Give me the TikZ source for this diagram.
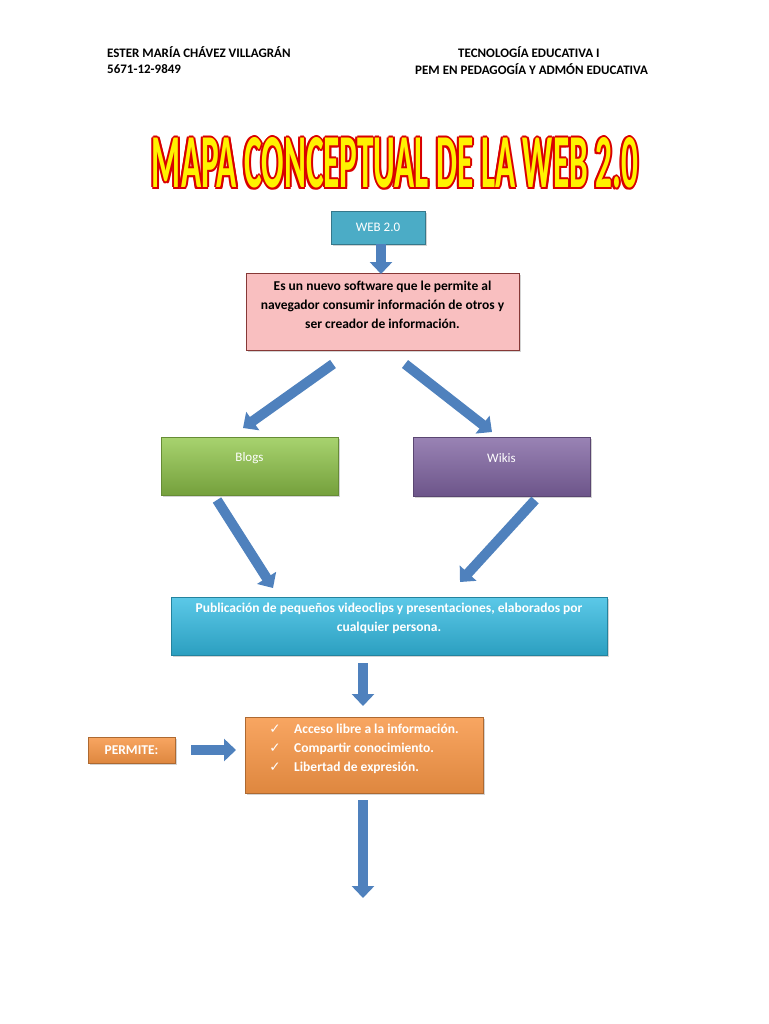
\documentclass[tikz,border=0pt]{standalone}
\usepackage{fontspec}
\usepackage{graphicx}
\setmainfont{Carlito}
\newfontfamily\djv{DejaVu Sans}
\usetikzlibrary{arrows.meta,shadows}
\definecolor{ablue}{HTML}{4F81BD}
\definecolor{teal}{HTML}{4BACC6}
\definecolor{pinkf}{HTML}{F9BFC0}
\definecolor{pinkd}{HTML}{C0504D}
\definecolor{gre}{HTML}{92C84B}
\definecolor{pur}{HTML}{8064A2}
\definecolor{cya}{HTML}{33BBE2}
\definecolor{ora}{HTML}{F79646}
\tikzset{
 box/.style={draw=#1!70!black, line width=0.8pt, drop shadow={opacity=0.35,shadow xshift=2pt,shadow yshift=-2pt}, font=\bfseries\fontsize{13.5}{19}\selectfont, text=white, align=center, inner sep=0pt},
 barrow/.style={line width=10pt, -{Triangle[width=22pt,length=12pt]}, color=ablue},
 hdr/.style={font=\bfseries\fontsize{13}{15}\selectfont, anchor=west, inner sep=0pt}
}
\begin{document}
\begin{tikzpicture}[x=1pt,y=-1pt]
\useasboundingbox (0,0) rectangle (768,1024);
\node[hdr] (h1) at (107,52) {ESTER MARÍA CHÁVEZ VILLAGRÁN};
\node[hdr] (h2) at (107,69) {5671-12-9849};
\node[hdr] (h3) at (458,52) {TECNOLOGÍA EDUCATIVA I};
\node[hdr] (h4) at (415,69) {PEM EN PEDAGOGÍA Y ADMÓN EDUCATIVA};
% title with outline
\foreach \dx/\dy in {-2/0,2/0,0/-2,0/2,-1.5/-1.5,1.5/1.5,-1.5/1.5,1.5/-1.5}{
 \node[inner sep=0pt,text=red!85!black] at (395+\dx,163+\dy) {\resizebox{486pt}{50pt}{\bfseries MAPA CONCEPTUAL DE LA WEB 2.0}};
}
\node[inner sep=0pt,text=yellow] (title) at (395,163) {\resizebox{486pt}{50pt}{\bfseries MAPA CONCEPTUAL DE LA WEB 2.0}};
% boxes
\node[box=teal, fill=teal, minimum width=94pt, minimum height=33pt, font=\fontsize{13}{14}\selectfont] (web) at (378,227.5) {WEB 2.0};
\node[box=pinkd, fill=pinkf, text=black, minimum width=273pt, minimum height=77pt, text depth=14pt] (def) at (382.5,311.5) {Es un nuevo software que le permite al\\navegador consumir información de otros y\\ser creador de información.};
\node[box=gre, top color=gre!80!white, bottom color=gre!80!black, minimum width=177pt, minimum height=58pt, font=\fontsize{13}{14}\selectfont, text depth=18pt] (blogs) at (249.5,466) {Blogs};
\node[box=pur, top color=pur!80!white, bottom color=pur!85!black, minimum width=177pt, minimum height=59pt, font=\fontsize{13}{14}\selectfont, text depth=18pt] (wikis) at (501.5,466.5) {Wikis};
\node[box=cya, top color=cya!80!white, bottom color=cya!85!black, minimum width=436pt, minimum height=58pt, text depth=17pt] (pub) at (389,626) {Publicación de pequeños videoclips y presentaciones, elaborados por\\cualquier persona.};
\node[box=ora, top color=ora!85!white, bottom color=ora!90!black, minimum width=238pt, minimum height=76pt, align=left, text depth=15pt] (perm) at (364,755) {{\djv ✓}\quad Acceso libre a la información.\\{\djv ✓}\quad Compartir conocimiento.\\{\djv ✓}\quad Libertad de expresión.};
\node[box=ora, top color=ora!85!white, bottom color=ora!90!black, minimum width=87pt, minimum height=26pt] (pl) at (131.5,750) {PERMITE:};
% arrow end points
\coordinate (a1s) at (381,244); \coordinate (a1e) at (381,274);
\coordinate (a2s) at (333,364); \coordinate (a2e) at (243,428);
\coordinate (a3s) at (405,364); \coordinate (a3e) at (492,432);
\coordinate (a4s) at (217,500); \coordinate (a4e) at (273,588);
\coordinate (a5s) at (535,500); \coordinate (a5e) at (460,582);
\coordinate (a6s) at (363,663); \coordinate (a6e) at (363,706);
\coordinate (a7s) at (191,750); \coordinate (a7e) at (236,750);
\coordinate (a8s) at (363,800); \coordinate (e1) at (363,898);
\draw[barrow] (a1s) -- (a1e);
\draw[barrow] (a2s) -- (a2e);
\draw[barrow] (a3s) -- (a3e);
\draw[barrow] (a4s) -- (a4e);
\draw[barrow] (a5s) -- (a5e);
\draw[barrow] (a6s) -- (a6e);
\draw[barrow] (a7s) -- (a7e);
\draw[barrow] (a8s) -- (e1);
\end{tikzpicture}
\end{document}
